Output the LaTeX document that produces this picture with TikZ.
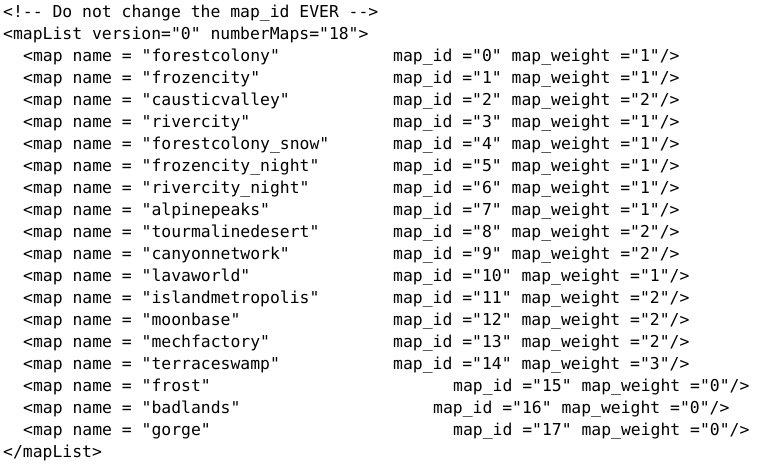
\documentclass[tikz,border=0pt]{standalone}
\usepackage{fontspec}
\setmonofont{DejaVu Sans Mono}
\usepackage{tikz}
\usetikzlibrary{positioning}

\begin{document}
\begin{tikzpicture}[
    x=1pt, y=-1pt,
    code/.style={font=\ttfamily\fontsize{16.4}{20}\selectfont, anchor=base west, inner sep=0pt, text=black}
]
\useasboundingbox (0,0) rectangle (760,464);

% === HEADER ===
\node[code] (comment) at (3, 17) {<!-- Do not change the map\_id EVER -->};
\node[code] (listopen) at (3, 39) {<mapList version="0" numberMaps="18">};

% === MAP ENTRIES ===
\foreach \name/\w/\idx [count=\i from 0] in {
    forestcolony/1/393, frozencity/1/393, causticvalley/2/393, rivercity/1/393,
    forestcolony\_snow/1/393, frozencity\_night/1/393, rivercity\_night/1/393,
    alpinepeaks/1/393, tourmalinedesert/2/393, canyonnetwork/2/393,
    lavaworld/1/393, islandmetropolis/2/393, moonbase/2/393, mechfactory/2/393,
    terraceswamp/3/393, frost/0/453, badlands/0/433, gorge/0/453} {
    \node[code] (name\i) at (23, 61+22*\i) {<map name = "\name"};
    \node[code] (id\i) at (\idx, 61+22*\i) {map\_id ="\i" map\_weight ="\w"/>};
}

% === FOOTER ===
\node[code] (listclose) at (3, 457) {</mapList>};

\end{tikzpicture}
\end{document}
